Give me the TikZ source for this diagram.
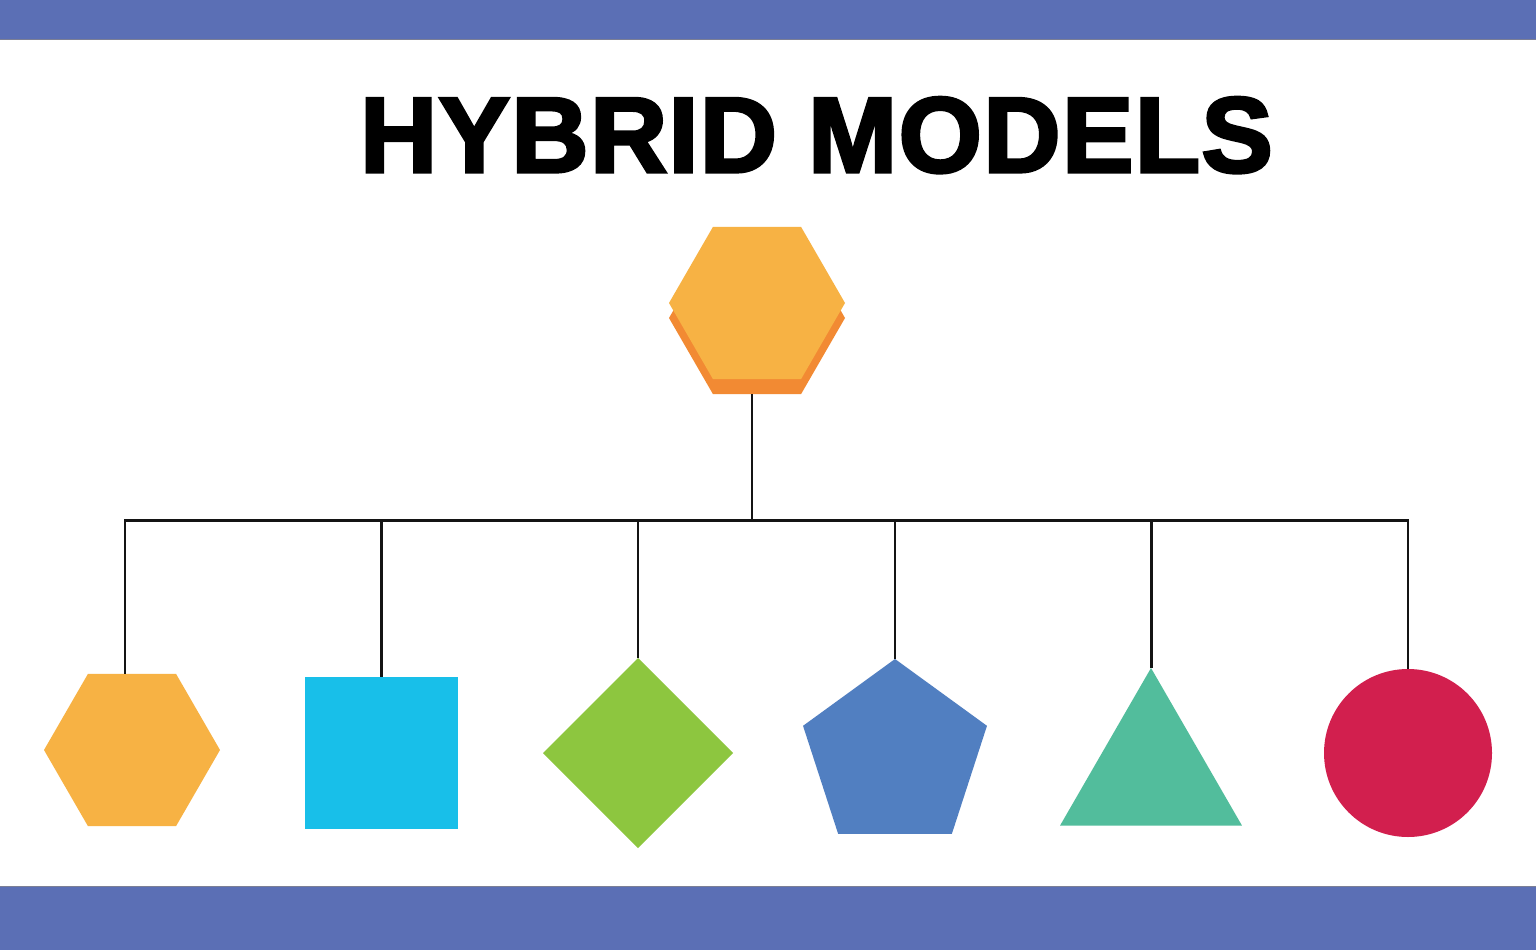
\documentclass[tikz,border=0pt]{standalone}
\usepackage{fontspec}
\setmainfont{Liberation Sans}
\newfontfamily\titlefont[FakeBold=3,LetterSpace=1.3]{Liberation Sans Bold}
\usetikzlibrary{shapes.geometric}
\definecolor{band}{HTML}{5B6FB5}
\definecolor{bandedge}{HTML}{7C7F95}
\definecolor{hexfill}{HTML}{F7B244}
\definecolor{hexshade}{HTML}{F28A33}
\definecolor{sqfill}{HTML}{18BFE9}
\definecolor{diafill}{HTML}{8DC63F}
\definecolor{pentfill}{HTML}{517FC1}
\definecolor{trifill}{HTML}{52BD9C}
\definecolor{circfill}{HTML}{D21F4E}
\tikzset{
  shapebox/.style={draw=none, inner sep=0pt, outer sep=0pt},
  hexbox/.style={shapebox, regular polygon, regular polygon sides=6, minimum size=176pt},
  wire/.style={draw=black!92, line width=2.4pt, line join=miter},
}
\begin{document}
\begin{tikzpicture}[x=1pt,y=-1pt]
\fill[white] (0,0) rectangle (1536,950);
\useasboundingbox (0,0) rectangle (1536,950);
% bands
\fill[band] (0,0) rectangle (1536,40);
\draw[bandedge, line width=1pt] (0,40) -- (1536,40);
\fill[band] (0,886) rectangle (1536,950);
\draw[bandedge, line width=1pt] (0,886) -- (1536,886);
% title
\node[anchor=base, inner sep=0pt] (title) at (816.5,172) {\titlefont\fontsize{107}{107}\selectfont HYBRID MODELS};
% top hexagon with shadow
\node[hexbox, fill=hexshade] (topsh) at (757,318) {};
\node[hexbox, fill=hexfill] (top) at (757,303) {};
% bottom shapes
\node[hexbox, fill=hexfill] (h1) at (132,750) {};
\node[shapebox, rectangle, fill=sqfill, minimum width=153pt, minimum height=152pt] (sq) at (381.5,753) {};
\node[shapebox, regular polygon, regular polygon sides=4, shape border rotate=45, minimum size=190pt, fill=diafill] (dia) at (638,753) {};
\node[shapebox, regular polygon, regular polygon sides=5, minimum size=193.4pt, fill=pentfill] (pent) at (895,755.7) {};
\node[shapebox, regular polygon, regular polygon sides=3, minimum size=210pt, fill=trifill] (tri) at (1151,773) {};
\node[shapebox, circle, minimum size=168pt, fill=circfill] (circ) at (1408,753) {};
% connectors
\coordinate (hub) at (752,520.5);
\coordinate (d1) at (125,520.5);
\coordinate (d2) at (381.5,520.5);
\coordinate (d3) at (638,520.5);
\coordinate (d4) at (895,520.5);
\coordinate (d5) at (1151.3,520.5);
\coordinate (d6) at (1407.8,520.5);
\draw[wire] (hub |- topsh.south) -- (hub);
\draw[wire] (d1 |- h1.north) -- (d1) -- (d6) -- (d6 |- circ.north);
\draw[wire] (d2) -- (d2 |- sq.north);
\draw[wire] (d3) -- (d3 |- dia.north);
\draw[wire] (d4) -- (d4 |- pent.north);
\draw[wire] (d5) -- (d5 |- tri.north);
\end{tikzpicture}
\end{document}
